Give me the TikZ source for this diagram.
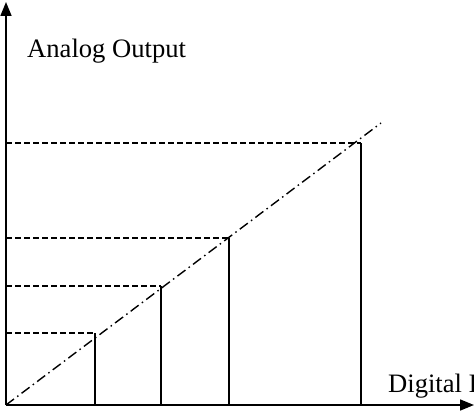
\documentclass[tikz,border=0pt]{standalone}
\usepackage{fontspec}
\setmainfont{Liberation Serif}
\usetikzlibrary{arrows.meta}
\begin{document}
\begin{tikzpicture}[x=1pt,y=-1pt,
  axis/.style={line width=1.7pt,-{Triangle[length=14pt,width=11pt]}},
  guide/.style={line width=1.5pt,dash pattern=on 6pt off 3pt},
  bar/.style={line width=1.7pt},
  ideal/.style={line width=1.4pt,dash pattern=on 10pt off 4pt on 1.5pt off 4pt},
  lbl/.style={font=\fontsize{26.6}{28}\selectfont,inner sep=0pt,anchor=base west}]
\useasboundingbox (0,0) rectangle (474,412);
\coordinate (O) at (6,405);
\coordinate (ytop) at (6,2);
\coordinate (xend) at (474,405);
\coordinate (dend) at (381,123);
\coordinate (a) at (95,333);
\coordinate (b) at (161,286);
\coordinate (c) at (229,238);
\coordinate (d) at (361,143);
\coordinate (a0) at (6,333);
\coordinate (b0) at (6,286);
\coordinate (c0) at (6,238);
\coordinate (d0) at (6,143);
\coordinate (a1) at (95,405);
\coordinate (b1) at (161,405);
\coordinate (c1) at (229,405);
\coordinate (d1) at (361,405);
\draw[guide] (a0) -- (a);
\draw[guide] (b0) -- (b);
\draw[guide] (c0) -- (c);
\draw[guide] (d0) -- (d);
\draw[bar] (a1) -- (a);
\draw[bar] (b1) -- (b);
\draw[bar] (c1) -- (c);
\draw[bar] (d1) -- (d);
\draw[ideal] (O) -- (dend);
\draw[axis] (O) -- (ytop);
\draw[axis] (O) -- (xend);
\node[lbl] (yl) at (27,58) {Analog Output};
\node[lbl] (xl) at (388,392) {Digital Input};
\end{tikzpicture}
\end{document}
